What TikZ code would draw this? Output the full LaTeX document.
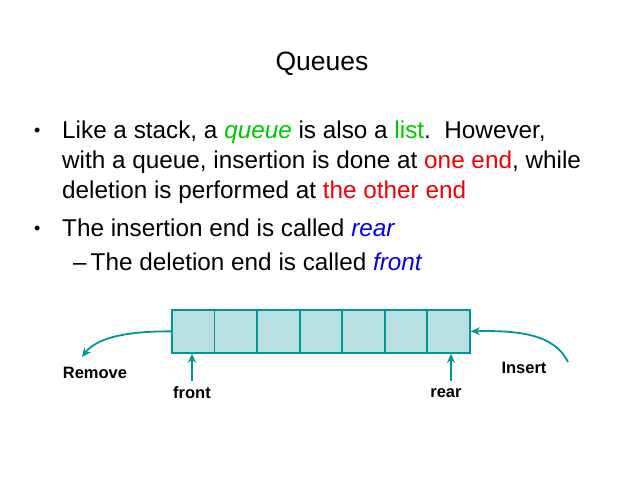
\documentclass[tikz,border=0pt]{standalone}
\usepackage{fontspec}
\setmainfont{Liberation Sans}
\usetikzlibrary{arrows.meta}
\definecolor{teal1}{RGB}{0,150,150}
\definecolor{cellfill}{RGB}{184,224,224}
\definecolor{grn}{RGB}{0,200,0}
\definecolor{rd}{RGB}{240,0,0}
\definecolor{bl}{RGB}{0,0,230}
\tikzset{
  body/.style={anchor=base west,inner sep=0pt,font=\fontsize{24.3}{28}\selectfont},
  cell/.style={draw=teal1,fill=cellfill,line width=1.8pt,minimum width=42.57pt,minimum height=43pt,inner sep=0pt,anchor=north west},
  lbl/.style={font=\fontsize{16.5}{18}\selectfont\bfseries,inner sep=0pt},
  arr/.style={draw=teal1,line width=1.8pt,-{Stealth[length=9pt,width=8pt]}}
}
\begin{document}
\begin{tikzpicture}[x=1pt,y=-1pt]
\useasboundingbox (0,0) rectangle (638,478);
\node[font=\fontsize{26.5}{30}\selectfont,inner sep=0pt,anchor=base] (title) at (322,71) {Queues};
\node[body,font=\fontsize{18}{20}\selectfont] (b1) at (34,137) {•};
\node[body] (l1) at (62,139) {Like a stack, a \textcolor{grn}{\itshape queue} is also a \textcolor{grn}{list}.\ \ However,};
\node[body] (l2) at (62,169) {with a queue, insertion is done at \textcolor{rd}{one end}, while};
\node[body] (l3) at (62,199) {deletion is performed at \textcolor{rd}{the other end}};
\node[body,font=\fontsize{18}{20}\selectfont] (b2) at (34,235) {•};
\node[body] (l4) at (62,237) {The insertion end is called \textcolor{bl}{\itshape rear}};
\node[body] (l5) at (73,271) {–\,The deletion end is called \textcolor{bl}{\itshape front}};
\foreach \i in {0,...,6}{
  \node[cell] (c\i) at ({171+\i*42.57},309) {};
}
\node[lbl] (rem) at (95,373) {Remove};
\node[lbl] (fr) at (192,393) {front};
\node[lbl] (re) at (446,393) {rear};
\node[lbl] (ins) at (524,368) {Insert};
\coordinate (insS) at (568,362);
\coordinate (frS) at (192,381);
\coordinate (reS) at (451,381);
\draw[arr] (c0.west) .. controls (120,331) and (95,340) .. (82,357);
\draw[arr] (insS) .. controls (555,335) and (520,330) .. (c6.east);
\draw[arr] (frS) -- (c0.south -| frS);
\draw[arr] (reS) -- (c6.south -| reS);
\end{tikzpicture}
\end{document}
